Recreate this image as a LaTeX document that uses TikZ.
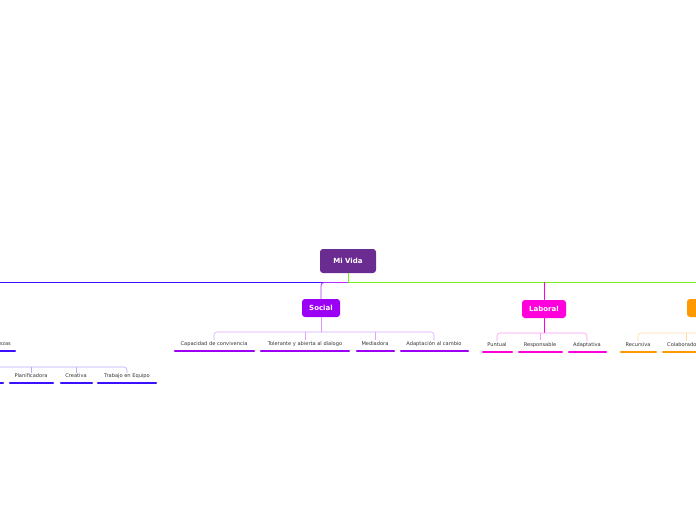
\documentclass[tikz,border=0pt]{standalone}
\usepackage{fontspec}
\setmainfont{DejaVu Sans}
\begin{document}
\begin{tikzpicture}[x=1pt,y=-1pt,
 main/.style={rounded corners=3pt,fill=#1,text=white,font=\bfseries\fontsize{7}{8}\selectfont,inner sep=0pt},
 lbl/.style={font=\fontsize{5.1}{6}\selectfont,text=black!80,inner sep=0pt},
 bar/.style={line width=2.2pt,line cap=round,draw=#1},
 br/.style={draw=#1,line width=0.6pt,rounded corners=3pt}]
\definecolor{mv}{HTML}{6A2C91}
\definecolor{soc}{HTML}{9B00F5}
\definecolor{lab}{HTML}{FF00DC}
\definecolor{ora}{HTML}{FF9900}
\definecolor{blu}{HTML}{3A10FF}
\definecolor{grn}{HTML}{77EE22}
\path[use as bounding box] (0,0) rectangle (696,520);
\clip (0,0) rectangle (696,520);
% main lines
\draw[blu,line width=1pt] (0,282) -- (348,282);
\draw[grn,line width=1pt] (348,282) -- (696,282);
\draw[grn,line width=1pt] (348,272) -- (348,282);
\draw[soc!80,line width=0.8pt,rounded corners=3pt] (348,282.5) -- (321,282.5) -- (321,300);
\draw[lab,line width=0.8pt,rounded corners=3pt] (544,282) -- (544,300);
\node[main=mv,minimum width=56pt,minimum height=24pt] (mv) at (348,261) {Mi Vida};
\node[main=soc,minimum width=38pt,minimum height=18pt] (soc) at (321,308) {Social};
\node[main=lab,minimum width=44pt,minimum height=18pt] (lab) at (544,309) {Laboral};
\node[main=ora,minimum width=30pt,minimum height=18pt] (ora) at (702,308) {};
% Social children
\draw[soc!40,line width=0.6pt] (321,317) -- (321,332);
\draw[br=soc!35] (214,340) -- (214,332) -- (434,332) -- (434,340);
\draw[soc!35,line width=0.6pt] (305,332) -- (305,340) (375,332) -- (375,340);
\node[lbl] (s1) at (214,344) {Capacidad de convivencia};
\node[lbl] (s2) at (305,344) {Tolerante y abierta al dialogo};
\node[lbl] (s3) at (375,344) {Mediadora};
\node[lbl] (s4) at (434,344) {Adaptación al cambio};
\draw[bar=soc] (175,351) -- (254,351);
\draw[bar=soc] (261,351) -- (349,351);
\draw[bar=soc] (357,351) -- (394,351);
\draw[bar=soc] (401,351) -- (468,351);
% Laboral children
\draw[lab,line width=0.6pt] (544,318) -- (544,333);
\draw[br=lab!40] (497,341) -- (497,333) -- (587,333) -- (587,341);
\draw[lab!40,line width=0.6pt] (540,333) -- (540,340);
\node[lbl] (l1) at (497,345) {Puntual};
\node[lbl] (l2) at (540,345) {Responsable};
\node[lbl] (l3) at (587,345) {Adaptativa};
\draw[bar=lab] (483,352) -- (512,352);
\draw[bar=lab] (519,352) -- (562,352);
\draw[bar=lab] (569,352) -- (606,352);
% Orange children
\draw[br=ora!35] (638,341) -- (638,333) -- (696,333);
\draw[ora!35,line width=0.6pt] (686,333) -- (686,341);
\node[lbl] (o1) at (638,345) {Recursiva};
\node[lbl,anchor=west] (o2) at (667,345) {Colaboradora};
\draw[bar=ora] (621,352) -- (656,352);
\draw[bar=ora] (663,352) -- (700,352);
% Left (blue) children
\node[lbl,anchor=east] (b0) at (11,344) {Fortalezas};
\draw[bar=blu] (-5,351) -- (15,351);
\draw[br=blu!35] (-5,367) -- (127,367) -- (127,373);
\draw[blu!35,line width=0.6pt] (31,367) -- (31,373) (76,367) -- (76,373);
\node[lbl] (b1) at (31,376) {Planificadora};
\node[lbl] (b2) at (76,376) {Creativa};
\node[lbl] (b3) at (127,376) {Trabajo en Equipo};
\draw[bar=blu] (-5,383) -- (3,383);
\draw[bar=blu] (10,383) -- (53,383);
\draw[bar=blu] (61,383) -- (92,383);
\draw[bar=blu] (98,383) -- (156,383);
\end{tikzpicture}
\end{document}
